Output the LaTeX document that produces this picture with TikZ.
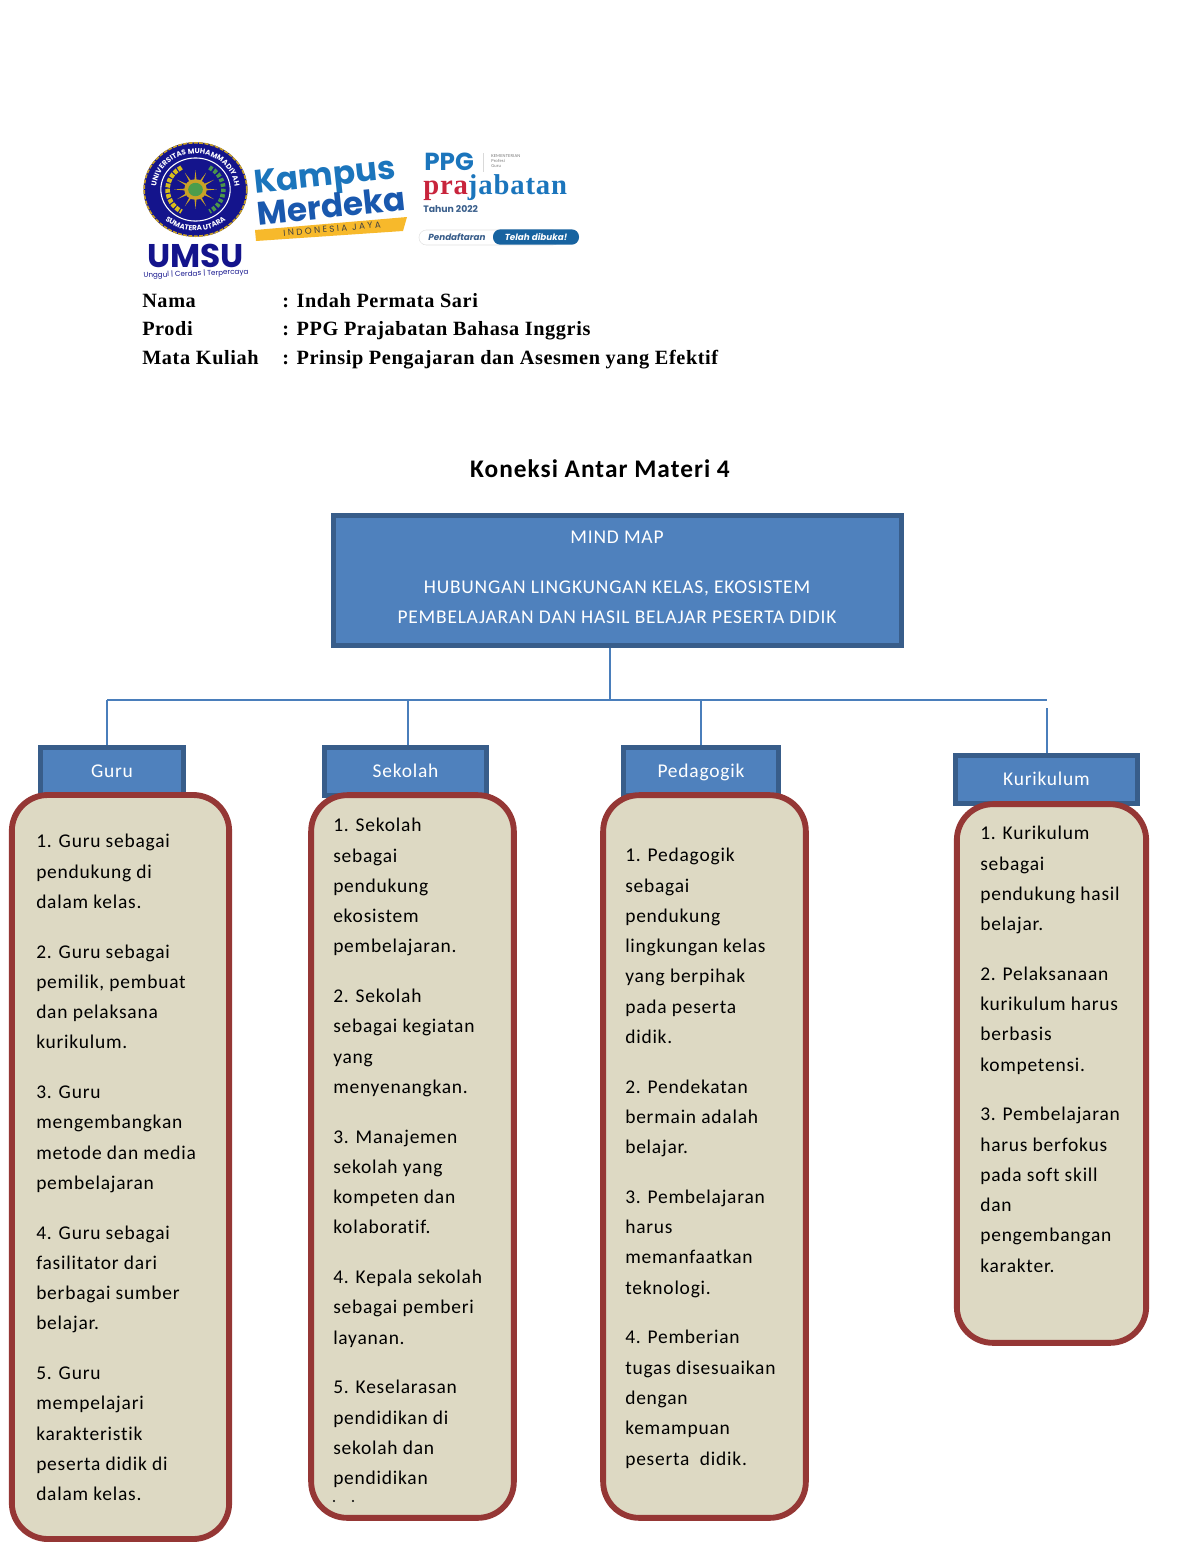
\documentclass[tikz,border=0pt]{standalone}
\usepackage{fontspec}
\setmainfont[LetterSpace=4,Ligatures=NoCommon]{Carlito}
\newfontfamily\headfont[LetterSpace=3]{Liberation Serif}
\newfontfamily\logofont{Poppins}
\usepackage{tikz}
\usetikzlibrary{decorations.text}
\definecolor{boxblue}{HTML}{4F81BD}
\definecolor{boxedge}{HTML}{385D8A}
\definecolor{linkblue}{HTML}{4A7EBB}
\definecolor{cardfill}{HTML}{DDD9C3}
\definecolor{cardedge}{HTML}{953735}
\definecolor{sealblue}{HTML}{14148C}
\definecolor{sealgold}{HTML}{C9A227}
\definecolor{kampblue}{HTML}{1B75BC}
\definecolor{ribbon}{HTML}{F7B92B}
\definecolor{prared}{HTML}{C8243C}
\newcommand{\paragap}{\\[14.6pt]}
\tikzset{
    headbox/.style={draw=boxedge,fill=boxblue,line width=3.75pt,text=white,
        text height=9.3pt,text depth=0pt,font=\fontsize{14.6}{17}\selectfont},
    cardbox/.style={draw=cardedge,fill=cardfill,line width=4.4pt,
        rounded corners=27pt},
    cardtext/.style={align=left,inner sep=0pt,anchor=north west,
        font=\fontsize{14.6}{22.7}\selectfont},
    infotext/.style={inner sep=0pt,anchor=base west,
        font=\headfont\bfseries\fontsize{15.2}{18}\selectfont},
    link/.style={draw=linkblue,line width=2pt}
}

\begin{document}
\begin{tikzpicture}[x=0.75pt,y=-0.75pt]
    \useasboundingbox (0,0) rectangle (1200,1553);

    \begin{scope}[shift={(195.5,189.5)},yscale=0.91]
        \fill[sealblue] (0,0) circle (39pt);
        \draw[sealgold,line width=1.2pt,dash pattern=on 3pt off 1pt] (0,0) circle (38.5pt);
        \draw[white,line width=.8pt] (0,0) circle (26pt);
        \draw[sealgold!70!yellow,line width=3.5pt,dash pattern=on 3pt off 1pt] (120:21pt) arc (120:240:21pt);
        \draw[green!40!black!70,line width=3.5pt,dash pattern=on 2.5pt off 1.5pt] (60:21pt) arc (60:-60:21pt);
        \foreach \ang in {0,30,...,330}
            \fill[sealgold] (\ang-9:6pt) -- (\ang:16pt) -- (\ang+9:6pt) -- cycle;
        \fill[sealgold] (0,0) circle (8.5pt);
        \fill[green!45!black!70] (0,0) circle (5.5pt);
        \path[decorate,decoration={text along path,text align=center,
            text={|\logofont\fontsize{5.4}{6}\selectfont\bfseries\color{white}|UNIVERSITAS MUHAMMADIYAH}}]
            (172:29.5pt) arc (172:8:29.5pt);
        \path[decorate,decoration={text along path,text align=center,
            text={|\logofont\fontsize{5.4}{6}\selectfont\bfseries\color{white}|SUMATERA UTARA}}]
            (212:34pt) arc (212:328:34pt);
    \end{scope}
    \node[inner sep=0pt,text=sealblue,font=\logofont\bfseries\fontsize{24.6}{26}\selectfont] (umsu) at (195.5,256) {UMSU};
    \node[inner sep=0pt,text=sealblue,rotate=2,font=\logofont\fontsize{5.4}{6}\selectfont] (motto) at (196,274) {Unggul | Cerdas | Terpercaya};

    \node[inner sep=0pt,rotate=6,text=kampblue,font=\logofont\bfseries\fontsize{24.5}{26}\selectfont] (kampus) at (325,179) {Kampus};
    \node[inner sep=0pt,rotate=6,text=kampblue!70!sealblue,font=\logofont\bfseries\fontsize{24.5}{26}\selectfont] (merdeka) at (331,206) {Merdeka};
    \fill[ribbon] (255,230) -- (407,217) -- (403,231) -- (256,241) -- cycle;
    \node[inner sep=0pt,rotate=5,text=black!75,font=\logofont\fontsize{6.6}{8}\selectfont] (jaya) at (332,229) {I N D O N E S I A\ \ J A Y A};

    \node[inner sep=0pt,anchor=west,text=kampblue,font=\logofont\bfseries\fontsize{18.5}{20}\selectfont] (ppg) at (424,162) {PPG};
    \draw[black!15] (483,153) -- (483,172);
    \node[inner sep=0pt,anchor=north west,align=left,text=black!55,font=\fontsize{3.4}{4}\selectfont] (profesi) at (491,154) {KEMENTERIAN\\Profesi\\Guru};
    \node[inner sep=0pt,anchor=west,font=\headfont\bfseries\fontsize{21.5}{23}\selectfont] (praja) at (423,188) {\textcolor{prared}{pra}\textcolor{kampblue}{jabatan}};
    \node[inner sep=0pt,anchor=west,text=boxedge,font=\logofont\bfseries\fontsize{7}{8}\selectfont] (tahun) at (423,209) {Tahun 2022};
    \draw[black!12,fill=white,rounded corners=5.5pt] (419,230) rectangle (560,245);
    \node[fill=kampblue!85!black,rounded corners=5.5pt,minimum width=64.5pt,minimum height=11.5pt,inner sep=0pt,
        text=white,font=\logofont\bfseries\itshape\fontsize{6.6}{7}\selectfont] (dibuka) at (536,237) {Telah dibuka!};
    \node[inner sep=0pt,text=boxedge,font=\logofont\bfseries\itshape\fontsize{6.6}{7}\selectfont] (daftar) at (457,237) {Pendaftaran};

    \node[infotext] (nama) at (142,307) {Nama};
    \node[infotext] (prodi) at (142,335) {Prodi};
    \node[infotext] (matkul) at (142,364) {Mata Kuliah};
    \node[infotext] (namaval) at (282,307) {: Indah Permata Sari};
    \node[infotext] (prodival) at (282,335) {: PPG Prajabatan Bahasa Inggris};
    \node[infotext] (matkulval) at (282,364) {: Prinsip Pengajaran dan Asesmen yang Efektif};

    \node[inner sep=0pt,font=\bfseries\fontsize{19}{22}\selectfont] (title) at (600,469) {Koneksi Antar Materi 4};

    \node[draw=boxedge,fill=boxblue,line width=3.75pt,minimum width=426pt,minimum height=97.5pt] (main) at (617,580.5) {};
    \node[cardtext,anchor=center,align=center,text=white] (maintext) at (617,577.5)
        {MIND MAP\paragap HUBUNGAN LINGKUNGAN KELAS, EKOSISTEM\\PEMBELAJARAN DAN HASIL BELAJAR PESERTA DIDIK};

    \coordinate (trunk) at (610,700);
    \coordinate (busguru) at (107,700);
    \coordinate (bussekolah) at (408,700);
    \coordinate (buspeda) at (701,700);
    \coordinate (buskuri) at (1047,700);
    \coordinate (dropkuri) at (1047,708);

    \node[headbox,minimum width=107pt,minimum height=36pt] (guru) at (112,771.5) {Guru};
    \node[headbox,minimum width=122pt,minimum height=36pt] (sekolah) at (405.5,771.5) {Sekolah};
    \node[headbox,minimum width=116pt,minimum height=36pt] (pedagogik) at (701,771.5) {Pedagogik};
    \node[headbox,minimum width=136pt,minimum height=36pt] (kurikulum) at (1046.5,779.5) {Kurikulum};

    \draw[link] (main.south -| trunk) -- (trunk);
    \draw[link] (busguru) -- (buskuri);
    \draw[link] (busguru) -- (guru.north -| busguru);
    \draw[link] (bussekolah) -- (sekolah.north -| bussekolah);
    \draw[link] (buspeda) -- (pedagogik.north -| buspeda);
    \draw[link] (dropkuri) -- (kurikulum.north -| dropkuri);

    \node[cardbox,minimum width=163pt,minimum height=558pt] (gurucard) at (120.5,1167) {};
    \node[cardbox,minimum width=152pt,minimum height=542pt] (sekolahcard) at (412.5,1156.5) {};
    \node[cardbox,minimum width=152pt,minimum height=542pt] (pedacard) at (704.5,1156.5) {};
    \node[cardbox,minimum width=142pt,minimum height=404pt] (kuricard) at (1051.5,1073.5) {};

    \node[cardtext] (gurutext) at (36,834) {1. Guru sebagai\\pendukung di\\dalam kelas.\paragap
        2. Guru sebagai\\pemilik, pembuat\\dan pelaksana\\kurikulum.\paragap
        3. Guru\\mengembangkan\\metode dan media\\pembelajaran\paragap
        4. Guru sebagai\\fasilitator dari\\berbagai sumber\\belajar.\paragap
        5. Guru\\mempelajari\\karakteristik\\peserta didik di\\dalam kelas.};
    \node[cardtext] (sekolahtext) at (333,818) {1. Sekolah\\sebagai\\pendukung\\ekosistem\\pembelajaran.\paragap
        2. Sekolah\\sebagai kegiatan\\yang\\menyenangkan.\paragap
        3. Manajemen\\sekolah yang\\kompeten dan\\kolaboratif.\paragap
        4. Kepala sekolah\\sebagai pemberi\\layanan.\paragap
        5. Keselarasan\\pendidikan di\\sekolah dan\\pendidikan};
    \fill (334,1501) circle (.9pt);
    \fill (353,1501) circle (.9pt);
    \node[cardtext] (pedatext) at (625,848) {1. Pedagogik\\sebagai\\pendukung\\lingkungan kelas\\yang berpihak\\pada peserta\\didik.\paragap
        2. Pendekatan\\bermain adalah\\belajar.\paragap
        3. Pembelajaran\\harus\\memanfaatkan\\teknologi.\paragap
        4. Pemberian\\tugas disesuaikan\\dengan\\kemampuan\\peserta\ \ didik.};
    \node[cardtext] (kuritext) at (980,826) {1. Kurikulum\\sebagai\\pendukung hasil\\belajar.\paragap
        2. Pelaksanaan\\kurikulum harus\\berbasis\\kompetensi.\paragap
        3. Pembelajaran\\harus berfokus\\pada soft skill\\dan\\pengembangan\\karakter.};
\end{tikzpicture}
\end{document}
